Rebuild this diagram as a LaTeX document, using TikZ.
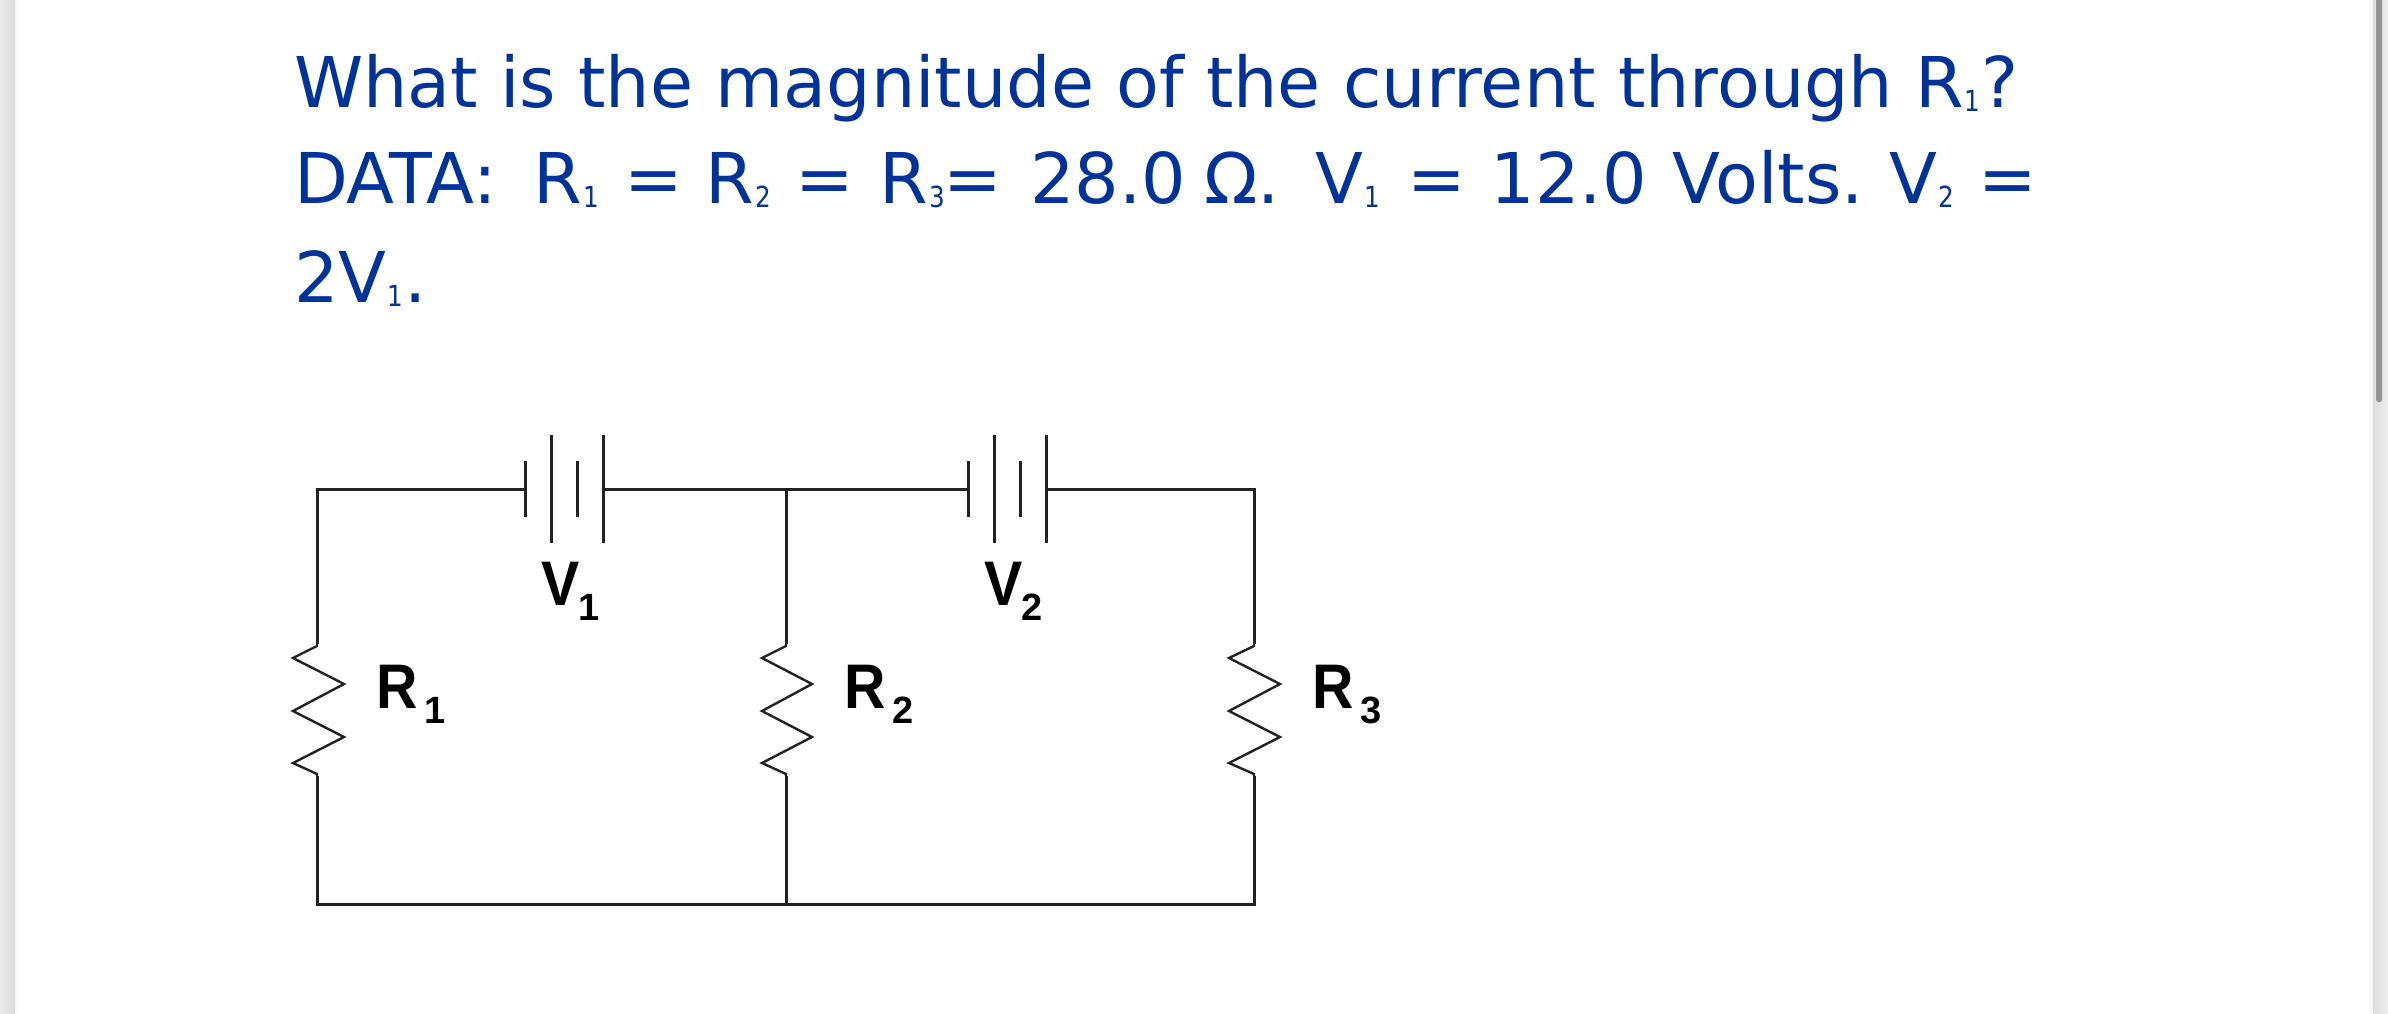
\documentclass[tikz,border=0pt]{standalone}
\usepackage{fontspec}
\setmainfont{DejaVu Sans}
\newfontfamily\lblfont[BoldFont={Liberation Sans Bold}]{Liberation Sans}
\definecolor{qblue}{HTML}{003399}
\definecolor{wirec}{HTML}{222222}
\newcommand{\qsub}[1]{\kern1pt\raisebox{-4pt}{\fontsize{29}{29}\selectfont\scalebox{0.85}[1]{#1}}\kern1pt}
\newcommand{\lbl}[3]{\lblfont\bfseries\fontsize{63}{63}\selectfont\scalebox{0.91}[1]{#1}\kern#3pt\raisebox{-15pt}{\fontsize{38}{38}\selectfont #2}}
\tikzset{
  x=1pt,y=-1pt,
  qline/.style={anchor=base west,inner sep=0pt,outer sep=0pt,text=qblue,font=\fontsize{70}{70}\selectfont},
  circ/.style={anchor=base west,inner sep=0pt,outer sep=0pt,text=black},
  wire/.style={draw=wirec,line width=3pt,line cap=rect,line join=miter},
  plate/.style={draw=wirec,line width=3pt,line cap=butt},
  zig/.style={draw=wirec,line width=2.4pt,line join=miter}
}
\begin{document}
\begin{tikzpicture}
\useasboundingbox (0,0) rectangle (2388,1013);
\fill[white] (0,0) rectangle (2388,1013);
% window edges
\fill[black!2] (15,0) rectangle (19,1013);
\fill[left color=black!8,right color=black!14] (0,0) rectangle (15,1013);
\fill[black!3] (2369,0) rectangle (2373,1013);
\fill[left color=black!13,right color=black!7] (2373,0) rectangle (2388,1013);
\fill[black!42,rounded corners=2.5pt] (2376,-10) rectangle (2382,402);
% question text
\node[qline] (q1) at (294,107) {What is the magnitude of the current through R\qsub{1}?};
\node[qline] (q2) at (294,203) {DATA:\kern15pt\ R\qsub{1}\ \kern2pt= R\qsub{2}\ \kern2pt= \kern3pt R\qsub{3}\kern-3pt= \kern6pt 28.0 \kern-4pt Ω. \kern13pt V\qsub{1}\ \kern4pt= \kern3pt 12.0 \kern4pt Volts. \kern-4pt V\qsub{2}\ \kern1pt=};
\node[qline] (q3) at (294,302) {2V\qsub{1}.};
% corners and junctions
\coordinate (tl) at (317,489);
\coordinate (tm) at (786,489);
\coordinate (tr) at (1254,489);
\coordinate (bl) at (317,904);
\coordinate (bm) at (786,904);
\coordinate (br) at (1254,904);
% battery 1 terminals
\coordinate (a1) at (525.5,489);
\coordinate (a2) at (551.5,489);
\coordinate (a3) at (577.5,489);
\coordinate (a4) at (603.5,489);
% battery 2 terminals
\coordinate (b1) at (968,489);
\coordinate (b2) at (994,489);
\coordinate (b3) at (1020,489);
\coordinate (b4) at (1046,489);
% plates
\foreach \p in {a1,a3,b1,b3}{\draw[plate] ([yshift=28pt]\p) -- ([yshift=-28pt]\p);}
\foreach \p in {a2,a4,b2,b4}{\draw[plate] ([yshift=54pt]\p) -- ([yshift=-54pt]\p);}
% top rail
\draw[wire] (a1) -- (tl) -- (bl) -- (br) -- (tr) -- (b4);
\draw[wire] (a4) -- (b1);
% middle branch
\draw[wire] (tm) -- (bm);
% resistors drawn over a white gap
\foreach \c/\l/\r in {317/293/344,786/762/812,1254/1229/1280}{
  \fill[white] (\l-3,644) rectangle (\r+3,776);
  \draw[zig] (\c,644) -- (\c,646) -- (\l,658) -- (\r,684) -- (\l,711) -- (\r,737) -- (\l,763) -- (\c,774) -- (\c,776);
}
% labels
\node[circ] (V1) at (541,605) {\lbl{V}{1}{-1}};
\node[circ] (V2) at (984,605) {\lbl{V}{2}{-1}};
\node[circ] (R1) at (376,708) {\lbl{R}{1}{7}};
\node[circ] (R2) at (844,708) {\lbl{R}{2}{7}};
\node[circ] (R3) at (1312,708) {\lbl{R}{3}{7}};
\end{tikzpicture}
\end{document}
